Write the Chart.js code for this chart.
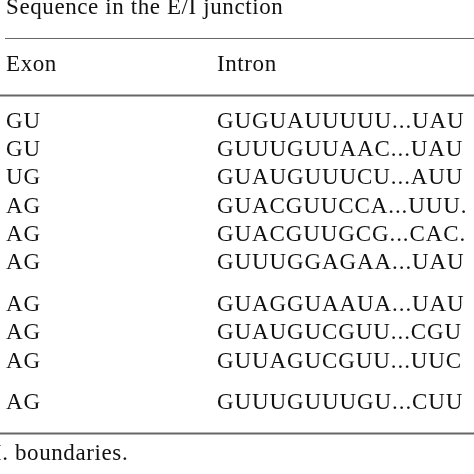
<!DOCTYPE html>
<html><head><meta charset="utf-8">
<script src="https://cdn.jsdelivr.net/npm/chart.js@4"></script>
<style>html,body{margin:0;padding:0;background:#fff}#wrap{width:474px;height:474px}</style>
</head><body><div id="wrap"><canvas id="myTable"></canvas></div>
<script>
var title = "Sequence in the E/I junction";
var headers = ["Exon", "Intron"];
var exon = ["GU", "GU", "UG", "AG", "AG", "AG", "AG", "AG", "AG", "AG"];
var intron = ["GUGUAUUUUU...UAU", "GUUUGUUAAC...UAU", "GUAUGUUUCU...AUU", "GUACGUUCCA...UUU.",
  "GUACGUUGCG...CAC.", "GUUUGGAGAA...UAU", "GUAGGUAAUA...UAU", "GUAUGUCGUU...CGU",
  "GUUAGUCGUU...UUC", "GUUUGUUUGU...CUU"];
var footnote = "I. boundaries.";

// row centres in page pixels (layout only)
var rowY = [122, 150, 178, 207, 235, 263, 305, 333, 362, 403];

var tablePlugin = {
  id: 'tableText',
  afterDraw: function(chart) {
    var c = chart.ctx, xs = chart.scales.x, ys = chart.scales.y;
    var X = function(v){ return xs.getPixelForValue(v); };
    var Y = function(v){ return ys.getPixelForValue(v); };
    c.save();
    c.fillStyle = '#111';
    c.textBaseline = 'middle';
    c.font = '23px "Liberation Serif", "DejaVu Serif", serif';
    c.letterSpacing = '0.6px';
    c.fillText(title, X(6), Y(8));
    c.fillText(headers[0], X(6), Y(65));
    c.fillText(headers[1], X(217), Y(65));
    c.fillText(footnote, X(-6), Y(454));
    c.letterSpacing = '0.9px';
    for (var i = 0; i < exon.length; i++) {
      c.fillText(exon[i], X(6), Y(rowY[i]));
      c.fillText(intron[i], X(217), Y(rowY[i]));
    }
    c.strokeStyle = '#666';
    c.lineWidth = 1.2;
    c.beginPath(); c.moveTo(X(5), Y(38.5)); c.lineTo(X(474), Y(38.5)); c.stroke();
    c.lineWidth = 1.8;
    c.beginPath(); c.moveTo(X(0), Y(95.5)); c.lineTo(X(474), Y(95.5)); c.stroke();
    c.beginPath(); c.moveTo(X(0), Y(433.5)); c.lineTo(X(474), Y(433.5)); c.stroke();
    c.restore();
  }
};

new Chart(document.getElementById("myTable"), {
  type: 'scatter',
  data: { datasets: [{ data: [] }] },
  options: {
    responsive: true,
    maintainAspectRatio: false,
    animation: false,
    layout: { padding: 0 },
    plugins: { legend: { display: false }, tooltip: { enabled: false } },
    scales: {
      x: { type: 'linear', min: 0, max: 474, display: false },
      y: { type: 'linear', min: 0, max: 474, reverse: true, display: false }
    }
  },
  plugins: [tablePlugin]
});
</script>
</body></html>
